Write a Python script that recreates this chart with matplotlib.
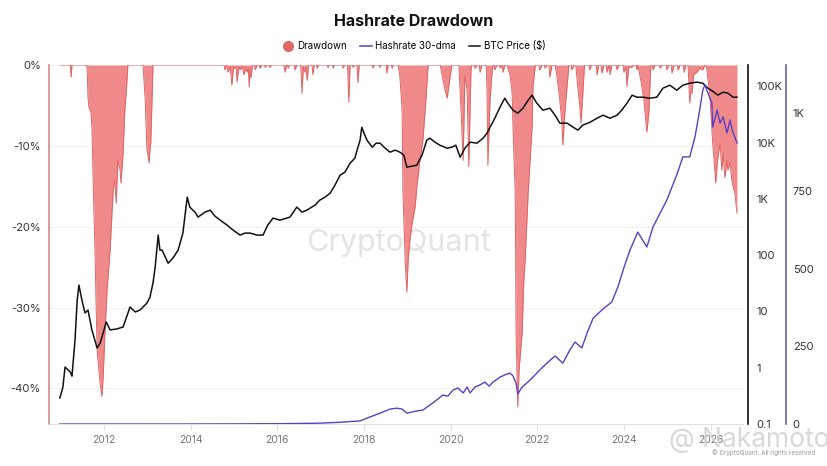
import matplotlib
matplotlib.use("Agg")
import matplotlib.pyplot as plt
from matplotlib.lines import Line2D
from matplotlib.ticker import NullLocator

plt.rcParams['font.family'] = ['Inter', 'DejaVu Sans']

# BTC price ($) (decimal years)
btc_year = [2010.98, 2011.05, 2011.10, 2011.22, 2011.26, 2011.33, 2011.38, 2011.42, 2011.49, 2011.56,
            2011.63, 2011.72, 2011.84, 2011.91, 2012.00, 2012.05, 2012.14, 2012.30, 2012.44, 2012.60,
            2012.72, 2012.83, 2012.99, 2013.06, 2013.13, 2013.18, 2013.25, 2013.29, 2013.34, 2013.48,
            2013.59, 2013.71, 2013.82, 2013.92, 2013.98, 2014.10, 2014.17, 2014.33, 2014.45, 2014.56,
            2014.68, 2014.84, 2014.98, 2015.14, 2015.25, 2015.37, 2015.53, 2015.67, 2015.78, 2015.90,
            2016.06, 2016.29, 2016.45, 2016.57, 2016.68, 2016.87, 2016.98, 2017.10, 2017.22, 2017.33,
            2017.45, 2017.56, 2017.68, 2017.79, 2017.84, 2017.91, 2017.95, 2018.00, 2018.07, 2018.19,
            2018.28, 2018.37, 2018.49, 2018.60, 2018.72, 2018.83, 2018.92, 2018.99, 2019.11, 2019.22,
            2019.34, 2019.45, 2019.52, 2019.64, 2019.75, 2019.92, 2020.03, 2020.12, 2020.22, 2020.33,
            2020.45, 2020.61, 2020.75, 2020.84, 2020.91, 2021.02, 2021.14, 2021.25, 2021.32, 2021.44,
            2021.55, 2021.67, 2021.79, 2021.88, 2021.99, 2022.13, 2022.29, 2022.41, 2022.52, 2022.69,
            2022.82, 2022.94, 2023.05, 2023.22, 2023.38, 2023.52, 2023.68, 2023.84, 2023.95, 2024.07,
            2024.19, 2024.30, 2024.44, 2024.60, 2024.76, 2024.90, 2025.06, 2025.22, 2025.36, 2025.52,
            2025.68, 2025.82, 2025.94, 2026.05, 2026.17, 2026.29, 2026.40, 2026.52, 2026.61]
btc_price = [0.29, 0.45, 1.03, 0.84, 0.71, 3.1, 15.9, 29.4, 15.9, 9.4,
             10.6, 4.7, 2.24, 2.75, 4.7, 6.5, 4.7, 4.9, 5.3, 12.0,
             9.8, 10.6, 14.1, 18, 32, 61, 228, 123, 123, 72,
             89, 123, 247, 1075, 715, 583, 475, 583, 632, 495,
             420, 343, 279, 228, 247, 247, 228, 228, 343, 456,
             420, 475, 715, 583, 632, 776, 953, 1075, 1268, 1758,
             2650, 2990, 4325, 5310, 7360, 11070, 18840, 14750, 11070, 8320,
             9800, 9800, 7980, 6780, 7360, 6780, 6000, 3670, 3830, 3980,
             6000, 11070, 12020, 10200, 9030, 7980, 8320, 9000, 5520, 7980,
             10200, 9800, 12020, 14750, 18840, 27200, 42700, 61700, 50300, 37800,
             33400, 41000, 56900, 69800, 50300, 37800, 41000, 30800, 22200, 22200,
             19000, 16700, 20500, 23100, 27200, 30800, 27200, 30800, 37800, 50300,
             69800, 64300, 64300, 61700, 64300, 92900, 105000, 85500, 105000, 114000,
             119000, 114000, 92900, 82000, 70000, 78900, 76000, 64300, 64300]

# Hashrate 30-dma (EH/s)
hr_year = [2010.98, 2012.00, 2013.00, 2014.00, 2015.00, 2016.00, 2016.52, 2017.00, 2017.50, 2017.91,
           2018.07, 2018.37, 2018.60, 2018.76, 2018.88, 2018.99, 2019.22, 2019.36, 2019.59, 2019.82,
           2019.94, 2020.05, 2020.17, 2020.29, 2020.38, 2020.45, 2020.56, 2020.68, 2020.79, 2020.89,
           2020.98, 2021.14, 2021.25, 2021.37, 2021.44, 2021.51, 2021.55, 2021.65, 2021.76, 2021.90,
           2022.06, 2022.22, 2022.41, 2022.59, 2022.75, 2022.87, 2023.03, 2023.15, 2023.29, 2023.49,
           2023.72, 2023.86, 2024.02, 2024.14, 2024.32, 2024.53, 2024.67, 2024.99, 2025.22, 2025.36,
           2025.52, 2025.64, 2025.75, 2025.82, 2025.87, 2025.94, 2026.03, 2026.05, 2026.15, 2026.22,
           2026.29, 2026.38, 2026.45, 2026.50, 2026.56, 2026.61]
hr_ehs = [0, 0.01, 0.02, 0.1, 0.4, 1.0, 1.8, 2.8, 6, 10,
          19, 35, 48, 51, 48, 35, 42, 45, 68, 93,
          90, 109, 116, 100, 119, 100, 119, 126, 135, 122,
          135, 151, 158, 164, 155, 132, 97, 119, 132, 151,
          174, 196, 219, 196, 238, 264, 245, 293, 341, 367,
          393, 441, 512, 560, 618, 570, 634, 721, 802, 860,
          860, 924, 1011, 1075, 1092, 1066, 1034, 956, 1011, 969,
          989, 937, 979, 947, 924, 905]

# Hashrate drawdown from previous high (%)
dd_year = (
    [2010.98, 2011.22, 2011.24, 2011.26, 2011.58]
    + [2011.61, 2011.63, 2011.65, 2011.70, 2011.72, 2011.75, 2011.79, 2011.84, 2011.91, 2011.95,
       2011.98, 2012.02, 2012.07, 2012.14, 2012.21, 2012.25, 2012.28, 2012.32, 2012.37, 2012.39,
       2012.44, 2012.48, 2012.53, 2012.55]
    + [2012.90, 2012.95, 2012.99, 2013.02, 2013.04, 2013.06, 2013.08, 2013.11, 2013.13]
    + [2014.70, 2014.77, 2014.79, 2014.83, 2014.86, 2014.91, 2014.95, 2014.99, 2015.02, 2015.05,
       2015.07, 2015.11, 2015.14, 2015.19, 2015.23, 2015.27, 2015.30, 2015.33, 2015.35, 2015.37,
       2015.39, 2015.43, 2015.47, 2015.49, 2015.53, 2015.58, 2015.60, 2015.64, 2015.70, 2015.72,
       2015.76, 2015.81, 2015.83, 2015.86, 2016.15, 2016.18, 2016.21, 2016.23, 2016.25, 2016.28,
       2016.39, 2016.41, 2016.45, 2016.54, 2016.57, 2016.60, 2016.64, 2016.66, 2016.69, 2016.72,
       2016.80, 2016.82, 2016.85, 2016.90, 2016.92, 2016.95, 2017.15, 2017.17, 2017.20, 2017.27,
       2017.29, 2017.31, 2017.50, 2017.52, 2017.55, 2017.62, 2017.65, 2017.68, 2017.73, 2017.75,
       2017.78, 2017.84, 2017.86, 2017.89, 2018.19, 2018.21, 2018.24, 2018.35, 2018.37, 2018.39,
       2018.51, 2018.53, 2018.56, 2018.63, 2018.65, 2018.67]
    + [2018.79, 2018.83, 2018.88, 2018.90, 2018.95, 2018.99, 2019.02, 2019.06, 2019.11, 2019.18,
       2019.22, 2019.29, 2019.36, 2019.43, 2019.48]
    + [2019.76, 2019.80, 2019.87, 2019.92, 2019.96, 2020.01, 2020.03, 2020.19, 2020.24, 2020.29,
       2020.33, 2020.38, 2020.42, 2020.47, 2020.49, 2020.54, 2020.56, 2020.61, 2020.66, 2020.68,
       2020.72, 2020.82, 2020.84, 2020.86, 2020.91, 2020.96, 2020.98, 2021.00, 2021.02, 2021.07,
       2021.12, 2021.14, 2021.19, 2021.21, 2021.25]
    + [2021.30, 2021.37, 2021.42, 2021.44, 2021.49, 2021.50, 2021.51, 2021.55, 2021.58, 2021.65,
       2021.69, 2021.72, 2021.79, 2021.88, 2021.90, 2021.95, 2021.97]
    + [2022.04, 2022.06, 2022.11, 2022.16, 2022.18, 2022.22, 2022.27, 2022.29, 2022.34, 2022.41,
       2022.45, 2022.52, 2022.57, 2022.59, 2022.64, 2022.69, 2022.73, 2022.78, 2022.80, 2022.85,
       2022.89, 2022.92, 2022.99, 2023.01, 2023.05, 2023.09, 2023.19, 2023.21, 2023.25, 2023.36,
       2023.38, 2023.42, 2023.47, 2023.49, 2023.54, 2023.59, 2023.61, 2023.66, 2023.68, 2023.72,
       2023.82, 2023.84, 2023.89, 2023.98, 2024.00, 2024.05, 2024.07, 2024.11, 2024.18, 2024.23,
       2024.28, 2024.30, 2024.32, 2024.39, 2024.46, 2024.53, 2024.58, 2024.62, 2024.65, 2024.67,
       2024.72, 2024.81, 2024.83, 2024.88, 2024.97, 2024.99, 2025.04, 2025.09, 2025.11, 2025.16,
       2025.23, 2025.25, 2025.30, 2025.37, 2025.39, 2025.43, 2025.48, 2025.52, 2025.54, 2025.57,
       2025.61, 2025.68, 2025.75, 2025.82, 2025.87]
    + [2025.89, 2025.91, 2025.98, 2026.05, 2026.12, 2026.16, 2026.22, 2026.26, 2026.29, 2026.33,
       2026.38, 2026.40, 2026.45, 2026.49, 2026.52, 2026.56, 2026.61]
)
dd_pct = (
    [0, 0, -1.5, 0, 0]
    + [-0.3, -4.0, -5.2, -5.9, -7.7, -14.6, -22.9, -35.3, -39.4, -41.0,
       -38.6, -33.2, -27.8, -22.9, -15.5, -14.2, -17.1, -11.8, -13.0, -14.6,
       -10.9, -5.6, -1.9, 0]
    + [0, -4.3, -10.5, -11.4, -12.1, -10.5, -9.6, -3.7, 0]
    + [0, 0, -0.6, 0, -0.9, -0.2, -2.5, -0.3, -0.4, -0.2,
       -2.1, -0.3, -0.6, -0.2, -1.2, -0.3, -0.9, -0.4, -2.7, -0.5,
       -1.6, 0, 0, -0.6, 0, 0, -0.4, 0, 0, -0.3,
       0, 0, -0.3, 0, 0, -0.9, 0, 0, -0.4, 0,
       0, -0.6, 0, 0, -3.5, -0.3, -0.9, -0.3, -1.9, 0,
       0, -1.2, 0, 0, -0.4, 0, 0, -0.3, 0, 0,
       -0.4, 0, 0, -0.4, 0, 0, -4.6, 0, 0, -0.3,
       0, 0, -2.2, 0, 0, -0.4, 0, 0, -0.3, 0,
       0, -1.0, 0, 0, -0.4, 0]
    + [0, -1.5, -5.6, -15.8, -24.1, -28.1, -24.1, -21.7, -19.6, -17.6,
       -15.1, -11.8, -9.3, -4.3, 0]
    + [0, -1.2, -3.1, -4.1, -2.5, -0.6, 0, 0, -5.6, -11.8,
       -1.2, -3.1, -12.6, -0.6, 0, 0, -0.4, 0, 0, -0.9,
       0, 0, -3.1, -12.4, -4.3, -0.6, 0, 0, -0.6, 0,
       0, -0.4, 0, -0.9, 0]
    + [0, -1.2, -3.5, -7.7, -15.8, -22.9, -33.2, -42.3, -37.7, -33.2,
       -26.6, -24.1, -15.8, -7.7, -2.7, -0.3, 0]
    + [0, -0.6, 0, 0, -0.4, 0, 0, -1.5, 0, 0,
       -1.2, -4.3, -7.4, -9.9, -5.6, -2.5, 0, 0, -0.6, 0,
       0, -1.9, -5.6, -7.2, -3.7, 0, 0, -0.6, 0, 0,
       -1.2, 0, 0, -1.0, 0, 0, -0.9, 0, -1.2, 0,
       0, -0.6, 0, 0, -0.9, -0.3, -2.7, -0.3, -0.3, 0,
       0, -0.6, 0, -1.9, -4.3, -8.3, -5.6, 0, 0, -0.6,
       0, 0, -0.4, 0, 0, -0.6, 0, 0, -1.0, 0,
       0, -0.6, 0, 0, -0.9, 0, 0, -4.7, -3.5, -3.5,
       -1.2, -0.9, -0.4, -0.6, 0]
    + [0, -0.4, -3.5, -9.7, -14.6, -11.8, -9.7, -13.0, -10.9, -13.9,
       -11.8, -13.0, -12.1, -14.2, -15.1, -15.8, -18.3]
)

year_ticks = list(range(2012, 2027, 2))
dd_ticks = [0, -10, -20, -30, -40]
btc_ticks = [0.1, 1, 10, 100, 1e3, 1e4, 1e5]
btc_labels = ['0.1', '1', '10', '100', '1K', '10K', '100K']
hr_ticks = [0, 250, 500, 750, 1000]
hr_labels = ['0', '250', '500', '750', '1K']

RED_FILL = '#f08a8a'
RED_LINE = '#e06464'
PURPLE = '#5b3fc4'

fig = plt.figure(figsize=(8.28, 4.66), dpi=100)
ax = fig.add_axes([0.0592, 0.0901, 0.8382, 0.7704])

# drawdown (left axis)
ax.fill_between(dd_year, dd_pct, 0, color=RED_FILL, lw=0, zorder=2)
ax.plot(dd_year, dd_pct, color=RED_LINE, lw=0.7, zorder=3)
ax.set_xlim(2010.73, 2026.75)
ax.set_ylim(-44.4, 0)
ax.set_yticks(dd_ticks)
ax.set_yticklabels([f'{t}%' for t in dd_ticks])
ax.set_xticks(year_ticks)
ax.set_xticklabels([str(y) for y in year_ticks])
ax.set_axisbelow(True)
ax.grid(axis='y', color='#f1f1f1', lw=0.8)
ax.tick_params(axis='y', length=0, pad=5.8, labelsize=8, labelcolor='#333333')
ax.tick_params(axis='x', length=4, color='#e0e0e0', labelsize=7.5, labelcolor='#777777', pad=4)
ax.spines['top'].set_visible(False)
ax.spines['right'].set_visible(False)
ax.spines['left'].set_color('#d98a8a')
ax.spines['left'].set_linewidth(1.2)
ax.spines['bottom'].set_color('#e0e0e0')

# BTC price (inner right log axis)
ax2 = ax.twinx()
ax2.plot(btc_year, btc_price, color='#111111', lw=1.1, zorder=4)
ax2.set_yscale('log')
ax2.set_ylim(0.1, 2.4e5)
ax2.set_yticks(btc_ticks)
ax2.set_yticklabels(btc_labels)
ax2.yaxis.set_minor_locator(NullLocator())
ax2.spines['right'].set_position(('outward', 3.8))
ax2.spines['right'].set_color('#111111')
ax2.spines['right'].set_linewidth(1.2)
for s in ['top', 'left', 'bottom']:
    ax2.spines[s].set_visible(False)
ax2.tick_params(axis='y', length=0, pad=5.8, labelsize=8, labelcolor='#333333')

# hashrate (outer right linear axis)
ax3 = ax.twinx()
ax3.plot(hr_year, hr_ehs, color=PURPLE, lw=1.0, zorder=4)
ax3.set_ylim(0, 1156)
ax3.set_yticks(hr_ticks)
ax3.set_yticklabels(hr_labels)
ax3.spines['right'].set_position(('outward', 30.7))
ax3.spines['right'].set_color('#6b5fb5')
ax3.spines['right'].set_linewidth(1.2)
for s in ['top', 'left', 'bottom']:
    ax3.spines[s].set_visible(False)
ax3.tick_params(axis='y', length=0, pad=5, labelsize=8, labelcolor='#333333')

# watermarks
ax.text(0.503, 0.504, 'CryptoQuant', transform=ax.transAxes, ha='center', va='center',
        fontsize=22, color='#e4e4e4', zorder=1)
fig.text(0.905, 0.055, '@ Nakamoto', ha='center', va='center', fontsize=19,
         color='#cfcfcf', alpha=0.8)
fig.text(0.922, 0.028, '\u00a9 CryptoQuant. All rights reserved', ha='center', va='center',
         fontsize=4.5, color='#999999')

# title and legend
fig.text(0.5, 1 - 22 / 466, 'Hashrate Drawdown', ha='center', va='center',
         fontsize=11.5, fontweight='bold', color='#111111')
handles = [
    Line2D([], [], marker='o', ls='', color='#e06666', markersize=7, label='Drawdown'),
    Line2D([], [], color=PURPLE, lw=1.1, label='Hashrate 30-dma'),
    Line2D([], [], color='#111111', lw=1.1, label='BTC Price ($)'),
]
fig.legend(handles=handles, loc='center', bbox_to_anchor=(0.5, 1 - 46 / 466), ncol=3,
           frameon=False, fontsize=7, handlelength=1.2, handletextpad=0.4,
           columnspacing=1.3)

fig.savefig('out.png', dpi=100)
